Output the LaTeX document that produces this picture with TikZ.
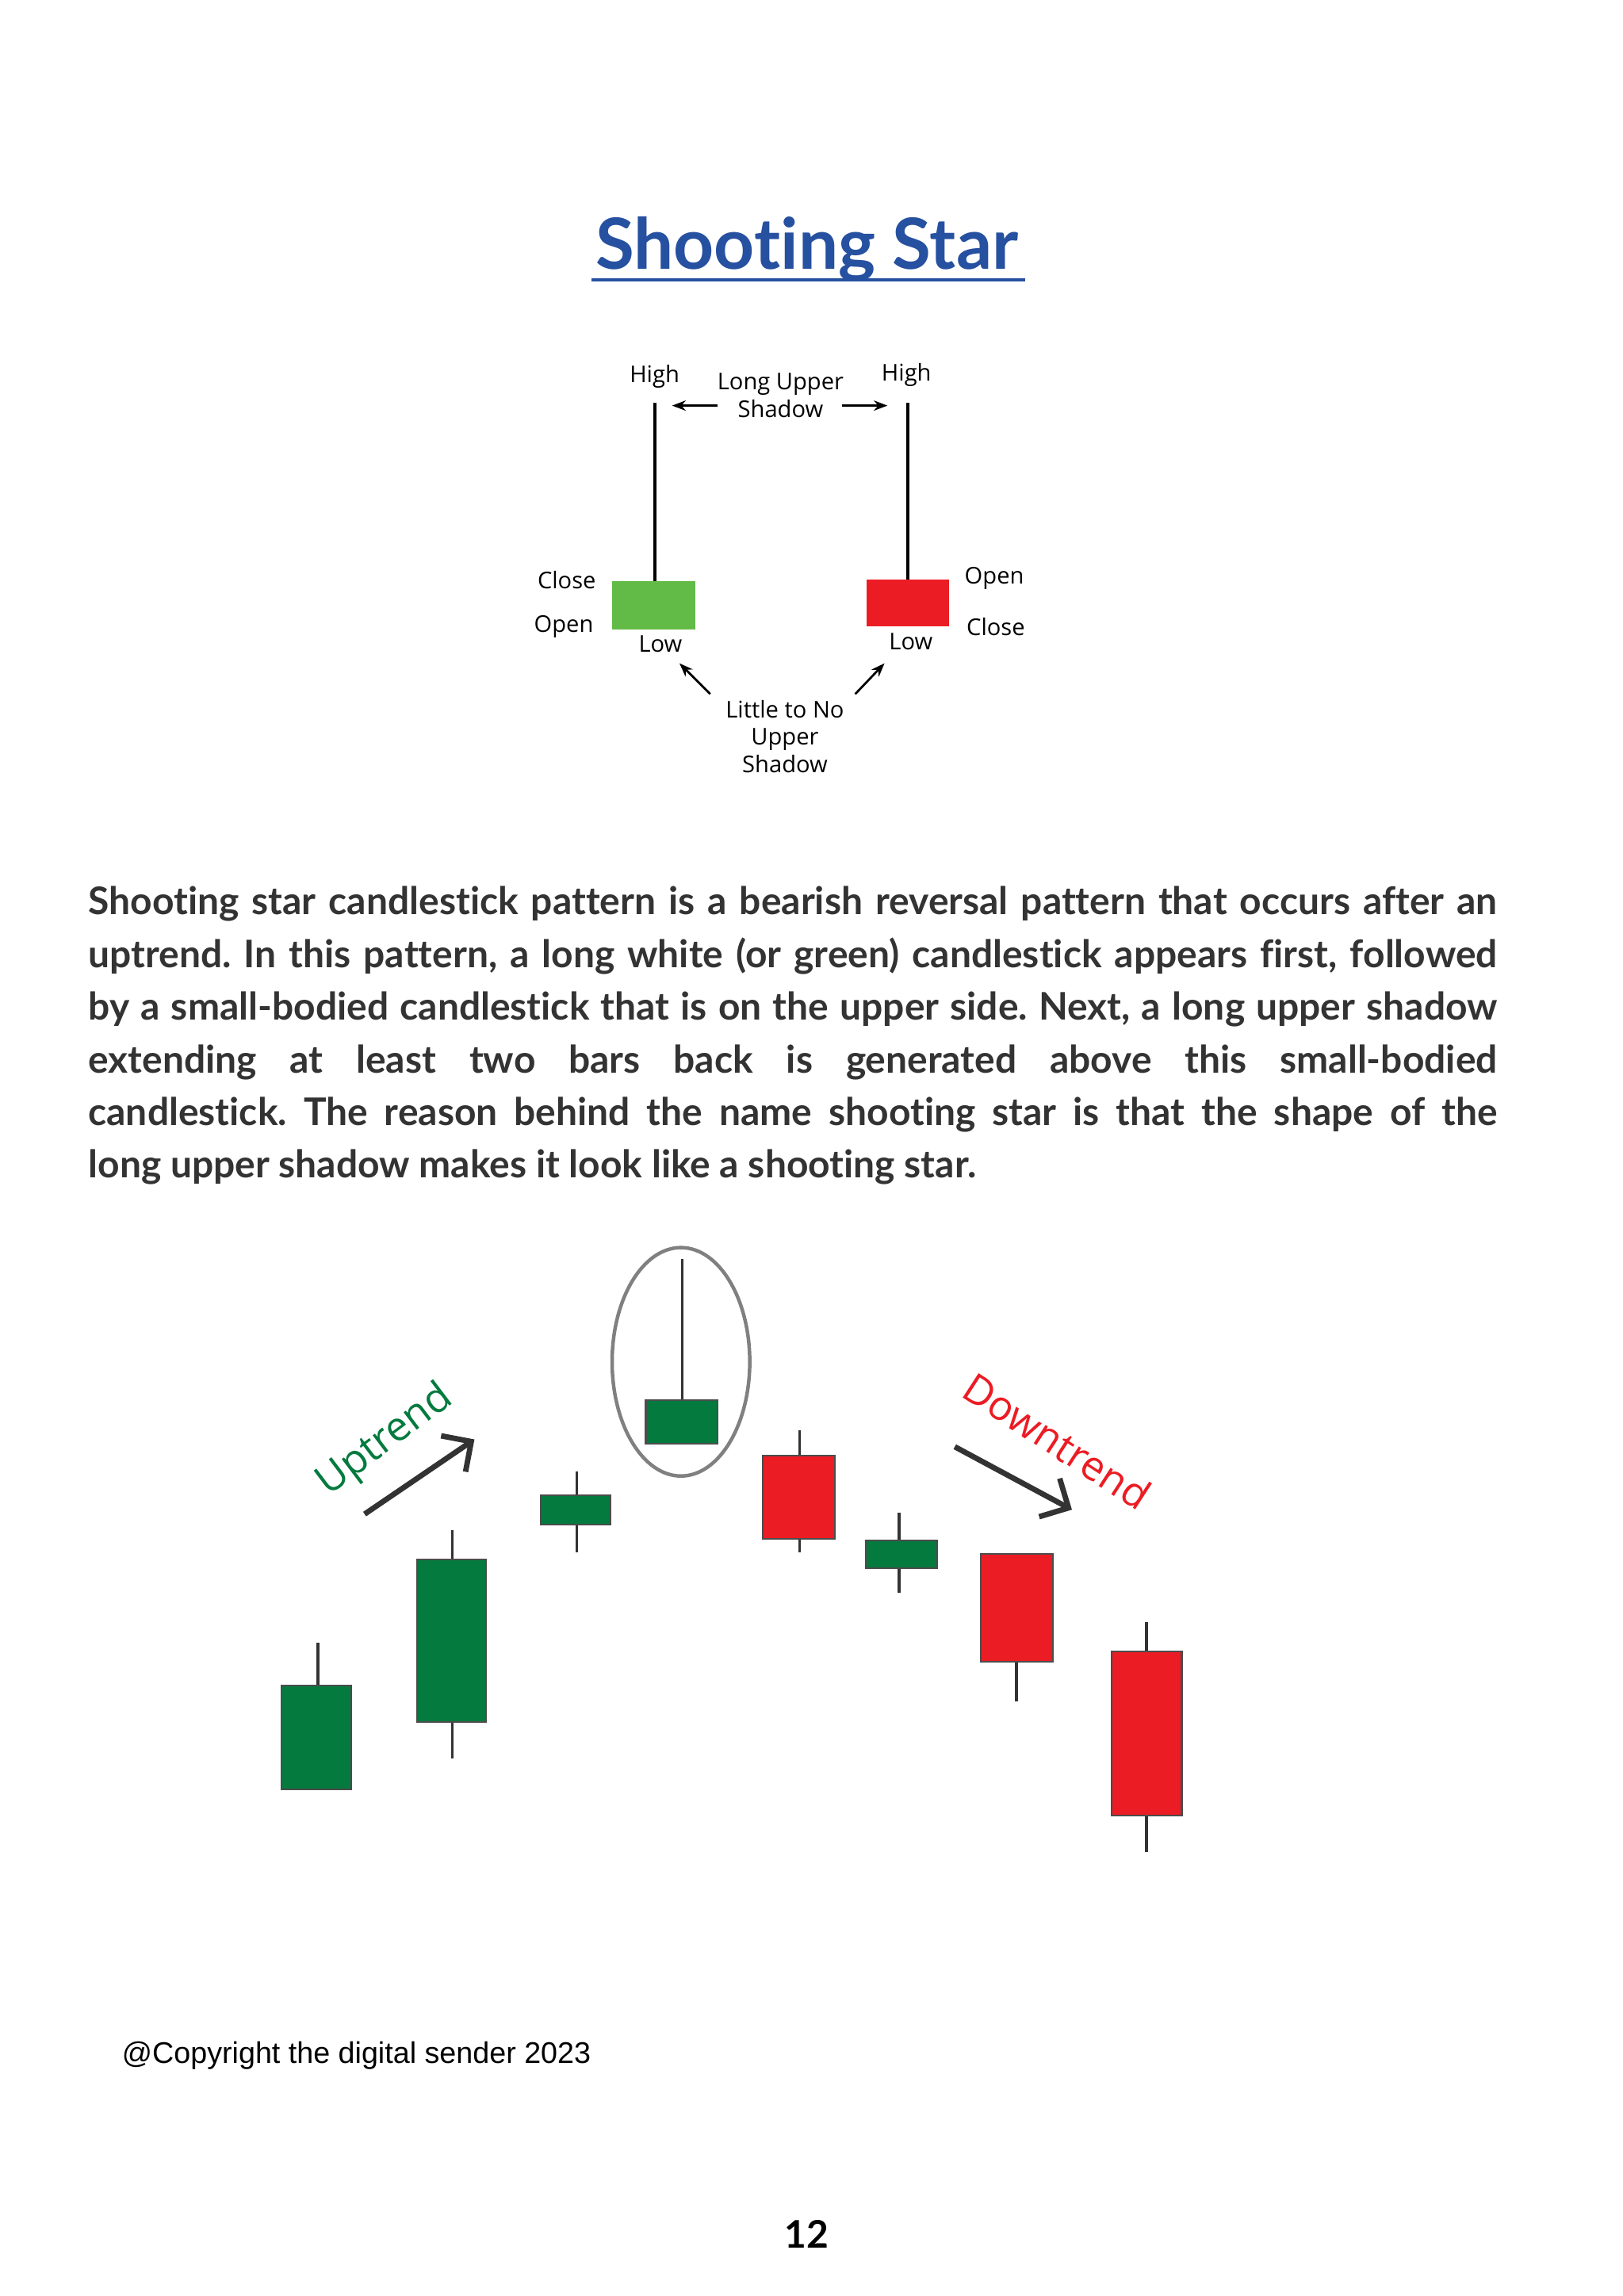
\documentclass[tikz,border=0pt]{standalone}
\usepackage{fontspec}
\setmainfont{Lato}[Ligatures=NoCommon]
\newfontfamily\opensans{Open Sans}
\newfontfamily\arialf{Liberation Sans}
\usetikzlibrary{arrows.meta}
\definecolor{tblue}{HTML}{2650A0}
\definecolor{cgreen}{HTML}{047A3E}
\definecolor{cred}{HTML}{EC1C24}
\definecolor{lgreen}{HTML}{62BB46}
\definecolor{txt}{HTML}{333333}
\begin{document}
\begin{tikzpicture}[x=0.01895cm,y=-0.01895cm,
  lbl/.style={font=\opensans\fontsize{8.5}{10}\selectfont, text=black, inner sep=0pt, align=center},
  wick/.style={line width=1.2pt},
  sarrow/.style={-{Stealth[length=5pt]}, line width=0.8pt},
  gbody/.style={fill=cgreen, draw=black!70, line width=0.6pt},
  rbody/.style={fill=cred, draw=black!70, line width=0.6pt},
  cwick/.style={line width=1pt, black!80}]
\useasboundingbox (0,0) rectangle (1108,1568);
% title
\node[font=\fontsize{26}{30}\bfseries\selectfont, text=tblue, inner sep=0pt] (title) at (551,170) {Shooting Star};
\draw[tblue, line width=1.2pt] (404,191) -- (700,191);
% top diagram
\draw[wick] (447,275) -- (447,397);
\node[fill=lgreen, minimum width=57*0.01895cm, minimum height=33*0.01895cm, inner sep=0pt] (gb) at (446.5,413.5) {};
\draw[wick] (620,275) -- (620,396);
\node[fill=cred, minimum width=56*0.01895cm, minimum height=32*0.01895cm, inner sep=0pt] (rb) at (620,412) {};
\node[lbl] (h1) at (447,257) {High};
\node[lbl] (h2) at (619,256) {High};
\node[lbl] (c1) at (387,396) {Close};
\node[lbl] (o1) at (385,428) {Open};
\node[lbl] (l1) at (451,440) {Low};
\node[lbl] (o2) at (679,395) {Open};
\node[lbl] (c2) at (680,428) {Close};
\node[lbl] (l2) at (622,438) {Low};
\node[lbl] (lus) at (533,270) {Long Upper\\Shadow};
\node[lbl] (ltn) at (536,503) {Little to No\\Upper\\Shadow};
\coordinate (a1) at (459,277); \coordinate (a2) at (606,277);
\coordinate (a3) at (464,453); \coordinate (a4) at (604,453);
\draw[sarrow] (490,277) -- (a1);
\draw[sarrow] (575,277) -- (a2);
\draw[sarrow] (485,474) -- (a3);
\draw[sarrow] (584,474) -- (a4);
% paragraph
\node[anchor=north west, inner sep=0pt, text width=962*0.01895cm, align=justify,
  font=\fontsize{14}{19.4}\bfseries\selectfont, text=txt] (para) at (60,605)
{\frenchspacing\hyphenpenalty=10000\exhyphenpenalty=10000 Shooting star candlestick pattern is a bearish reversal pattern that occurs after an\linebreak uptrend. In this pattern, a long white (or green) candlestick appears first, followed\linebreak by a small-bodied candlestick that is on the upper side. Next, a long upper shadow\linebreak extending at least two bars back is generated above this small-bodied\linebreak candlestick. The reason behind the name shooting star is that the shape of the\linebreak long upper shadow makes it look like a shooting star.};
% candles
\draw[cwick] (217,1122) -- (217,1151);
\draw[gbody] (192,1151) rectangle (240,1222);
\draw[cwick] (309,1045) -- (309,1201);
\draw[gbody] (285,1065) rectangle (332,1176);
\draw[cwick] (394,1005) -- (394,1060);
\draw[gbody] (369,1021) rectangle (417,1041);
\draw[cwick] (466,860) -- (466,956);
\draw[gbody] (441,956) rectangle (490,986);
\draw[gray, line width=1.3pt] (465,930) ellipse (47 and 78);
\draw[cwick] (546,977) -- (546,1060);
\draw[rbody] (521,994) rectangle (570,1051);
\draw[cwick] (614,1033) -- (614,1088);
\draw[gbody] (591,1052) rectangle (640,1071);
\draw[cwick] (694,1061) -- (694,1162);
\draw[rbody] (670,1061) rectangle (719,1135);
\draw[cwick] (783,1108) -- (783,1265);
\draw[rbody] (759,1128) rectangle (807,1240);
\node[font=\opensans\fontsize{15}{18}\selectfont, text=cgreen, rotate=37, inner sep=0pt] (up) at (263,984) {Uptrend};
\node[font=\opensans\fontsize{15}{18}\selectfont, text=cred, rotate=-33, inner sep=0pt] (down) at (722,984) {Downtrend};
\coordinate (u1) at (249,1034); \coordinate (u2) at (324,983);
\coordinate (d1) at (652,988); \coordinate (d2) at (732,1031);
\draw[-{Straight Barb[length=8pt]}, line width=2pt, txt] (u1) -- (u2);
\draw[-{Straight Barb[length=8pt]}, line width=2pt, txt] (d1) -- (d2);
% footer
\node[anchor=west, font=\arialf\fontsize{11}{13}\selectfont, inner sep=0pt] (copy) at (83,1404) {@Copyright the digital sender 2023};
\node[font=\fontsize{14}{15}\bfseries\selectfont, inner sep=0pt] (pg) at (551,1526) {12};
\end{tikzpicture}
\end{document}
